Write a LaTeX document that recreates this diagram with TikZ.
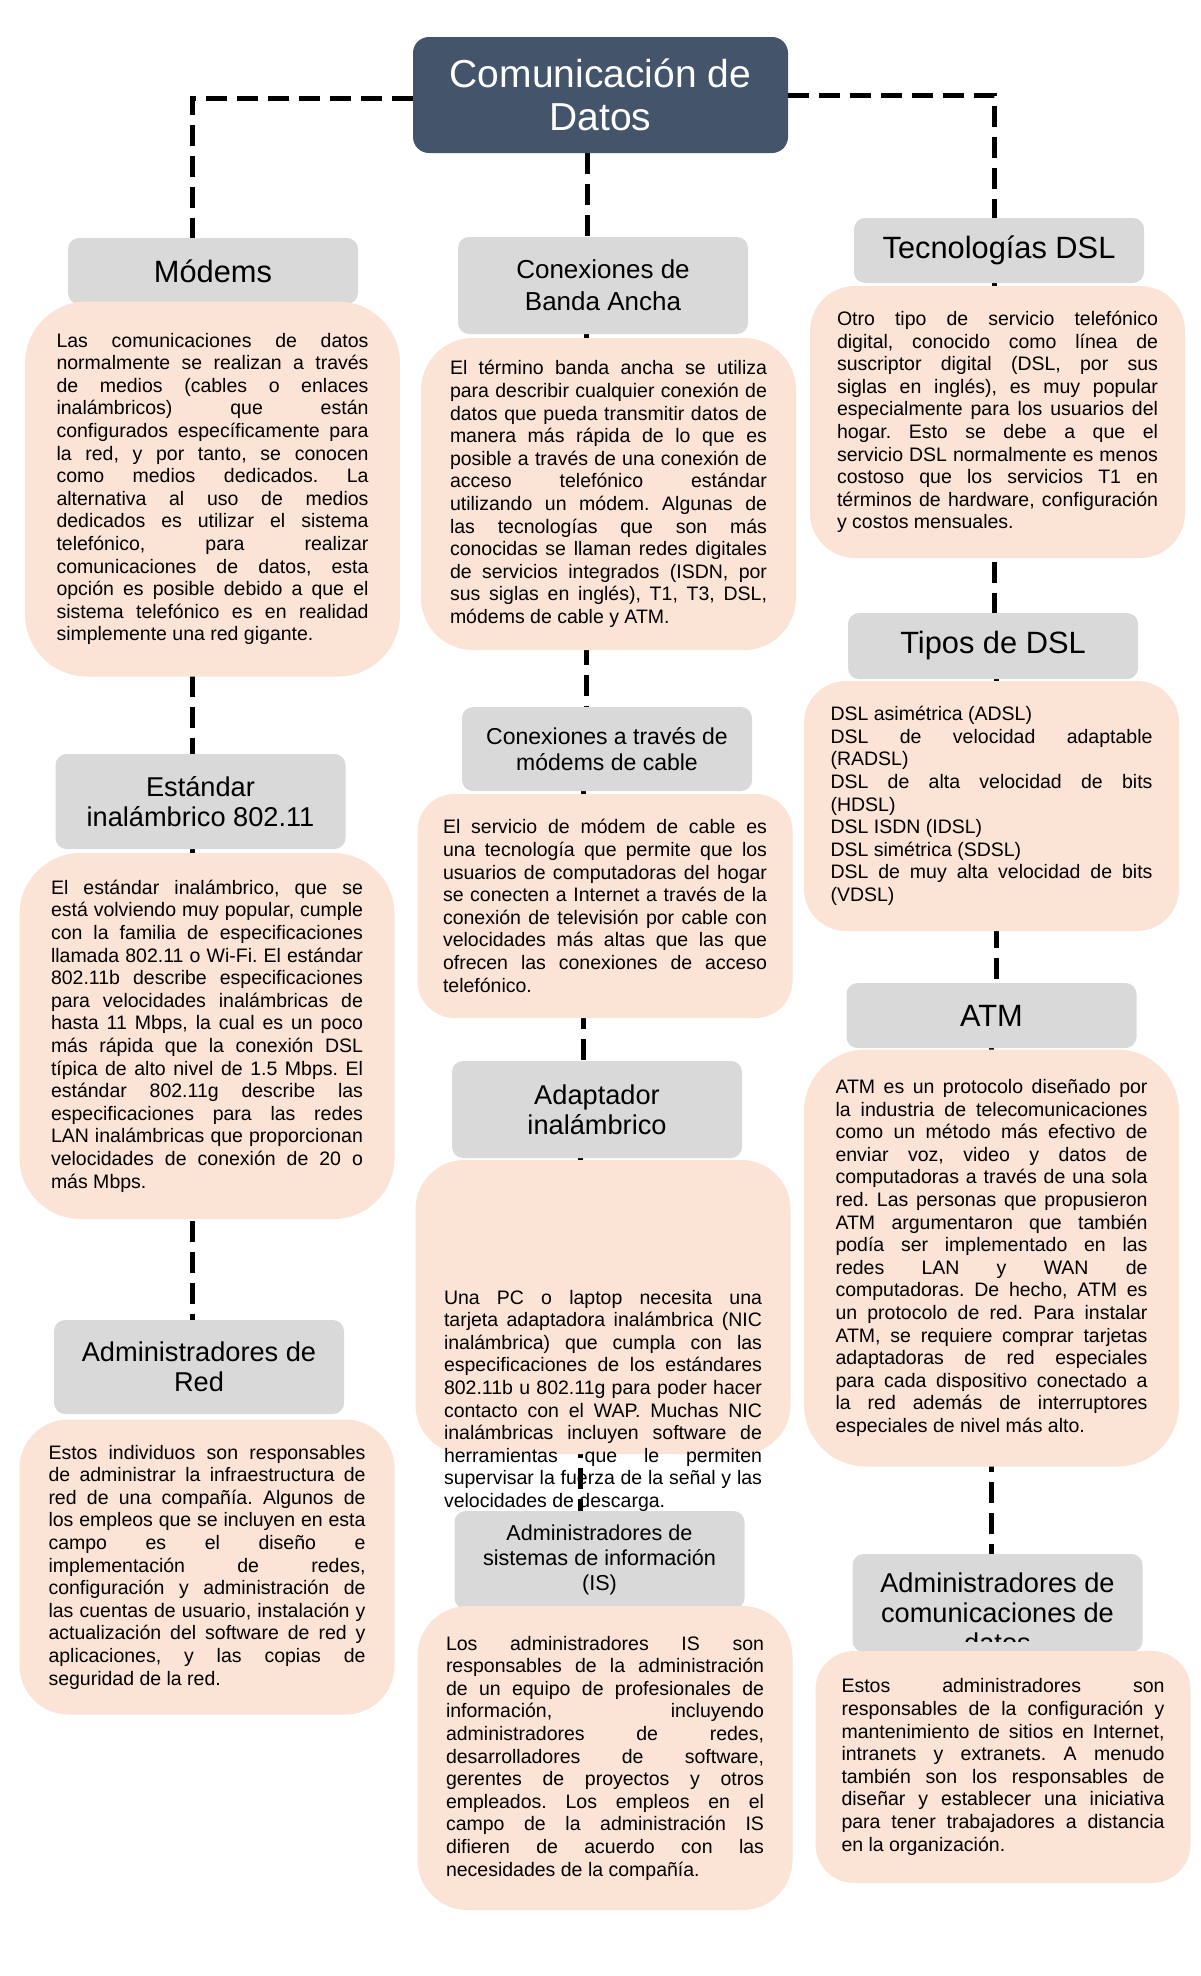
\documentclass[tikz,border=0pt]{standalone}
\usepackage{fontspec}
\setmainfont{Liberation Sans}
\usetikzlibrary{backgrounds}
\definecolor{MapSlate}{HTML}{44546A}
\definecolor{MapGray}{HTML}{D9D9D9}
\definecolor{MapPeach}{HTML}{FBE3D6}
\newcommand{\notefont}{\fontsize{9.75}{11.3}\selectfont\frenchspacing\spaceskip=0.278em plus 0.6em minus 0.08em\relax}
\tikzset{
  topicbox/.style={fill=MapSlate, rounded corners=8pt, text=white, align=center, inner sep=0pt, minimum width=187.5pt, minimum height=58pt, font=\fontsize{19.5}{21.7}\selectfont},
  headbox/.style={fill=MapGray, rounded corners=5.5pt, align=center, inner sep=0pt, minimum width=145pt},
  notebox/.style={fill=MapPeach, inner sep=0pt, minimum width=187.5pt, text width=#1, align=justify,
    execute at begin node={\tolerance=10000 \hbadness=10000 \emergencystretch=0pt }, font=\notefont},
  dashlink/.style={draw=black, line width=2.5pt, dash pattern=on 10.5pt off 5pt},
  headbig/.style={font=\fontsize{15.4}{17}\selectfont},
  headmid/.style={font=\fontsize{13.6}{15}\selectfont},
}

\begin{document}
\begin{tikzpicture}[x=0.5pt,y=-0.5pt]
  \useasboundingbox (0,0) rectangle (1200,1976);
  \node[topicbox] (title) at (600.5,95) {Comunicación de\\Datos};

  % headings
  \node[headbox, headbig, minimum height=33pt] (modH) at (213,271) {Módems};
  \node[headbox, font=\fontsize{13}{15.8}\selectfont, minimum height=48.5pt] (bandH) at (603,285.5) {Conexiones de\\Banda Ancha};
  \node[headbox, headbig, minimum height=32.5pt] (tecH) at (999,250.5) {Tecnologías DSL};
  \node[headbox, headbig, minimum height=33pt] (tipH) at (993,646) {Tipos de DSL};
  \node[headbox, headmid, minimum height=47.5pt] (estH) at (200.5,801.5) {Estándar\\inalámbrico 802.11};
  \node[headbox, font=\fontsize{11.5}{13.2}\selectfont, minimum height=42pt] (cabH) at (607,749) {Conexiones a través de\\módems de cable};
  \node[headbox, headmid, minimum height=48.5pt] (adaH) at (597,1109.5) {Adaptador\\inalámbrico};
  \node[headbox, headbig, minimum height=32.5pt] (atmH) at (991.5,1015.5) {ATM};
  \node[headbox, headmid, minimum height=47pt] (redH) at (199,1367) {Administradores de\\Red};
  \node[headbox, font=\fontsize{10.8}{12.6}\selectfont, minimum height=49pt] (isH) at (599.5,1560) {Administradores de\\sistemas de información\\(IS)};
  \node[headbox, minimum height=49pt] (comH) at (997.5,1603) {};
  \begin{scope}
    \clip (comH.north west) rectangle ([yshift=5.5pt]comH.south east);
    \node[headmid, align=center] (comT) at (997.5,1613) {Administradores de\\comunicaciones de\\datos};
  \end{scope}

  % bodies
  \node[notebox=156pt, rounded corners=31pt, minimum height=187.5pt] (modB) at (212.5,489) {%
    Las comunicaciones de datos\linebreak
    normalmente se realizan a través\linebreak
    de medios (cables o enlaces\linebreak
    inalámbricos) que están\linebreak
    configurados específicamente para\linebreak
    la red, y por tanto, se conocen\linebreak
    como medios dedicados. La\linebreak
    alternativa al uso de medios\linebreak
    dedicados es utilizar el sistema\linebreak
    telefónico, para realizar\linebreak
    comunicaciones de datos, esta\linebreak
    opción es posible debido a que el\linebreak
    sistema telefónico es en realidad\linebreak
    simplemente una red gigante.};
  \node[notebox=158.5pt, rounded corners=26pt, minimum height=156pt] (bandB) at (608.5,494) {%
    El término banda ancha se utiliza\linebreak
    para describir cualquier conexión de\linebreak
    datos que pueda transmitir datos de\linebreak
    manera más rápida de lo que es\linebreak
    posible a través de una conexión de\linebreak
    acceso telefónico estándar\linebreak
    utilizando un módem. Algunas de\linebreak
    las tecnologías que son más\linebreak
    conocidas se llaman redes digitales\linebreak
    de servicios integrados (ISDN, por\linebreak
    sus siglas en inglés), T1, T3, DSL,\linebreak
    módems de cable y ATM.};
  \node[notebox=160.5pt, rounded corners=22.5pt, minimum height=136pt] (tecB) at (997.5,422) {%
    Otro tipo de servicio telefónico\linebreak
    digital, conocido como línea de\linebreak
    suscriptor digital (DSL, por sus\linebreak
    siglas en inglés), es muy popular\linebreak
    especialmente para los usuarios del\linebreak
    hogar. Esto se debe a que el\linebreak
    servicio DSL normalmente es menos\linebreak
    costoso que los servicios T1 en\linebreak
    términos de hardware, configuración\linebreak
    y costos mensuales.};
  \node[notebox=161pt, rounded corners=21pt, minimum height=125pt] (tipB) at (991.5,806) {%
    DSL asimétrica (ADSL)\par
    DSL de velocidad adaptable\linebreak
    (RADSL)\par
    DSL de alta velocidad de bits\linebreak
    (HDSL)\par
    DSL ISDN (IDSL)\par
    DSL simétrica (SDSL)\par
    DSL de muy alta velocidad de bits\linebreak
    (VDSL)};
  \node[notebox=156pt, rounded corners=30.5pt, minimum height=183pt] (estB) at (207,1036) {%
    El estándar inalámbrico, que se\linebreak
    está volviendo muy popular, cumple\linebreak
    con la familia de especificaciones\linebreak
    llamada 802.11 o Wi-Fi. El estándar\linebreak
    802.11b describe especificaciones\linebreak
    para velocidades inalámbricas de\linebreak
    hasta 11 Mbps, la cual es un poco\linebreak
    más rápida que la conexión DSL\linebreak
    típica de alto nivel de 1.5 Mbps. El\linebreak
    estándar 802.11g describe las\linebreak
    especificaciones para las redes\linebreak
    LAN inalámbricas que proporcionan\linebreak
    velocidades de conexión de 20 o\linebreak
    más Mbps.};
  \node[notebox=162pt, rounded corners=18.5pt, minimum height=112pt] (cabB) at (605,906) {%
    El servicio de módem de cable es\linebreak
    una tecnología que permite que los\linebreak
    usuarios de computadoras del hogar\linebreak
    se conecten a Internet a través de la\linebreak
    conexión de televisión por cable con\linebreak
    velocidades más altas que las que\linebreak
    ofrecen las conexiones de acceso\linebreak
    telefónico.};
  \node[notebox=159pt, rounded corners=24.5pt, minimum height=147pt, text depth=10pt] (adaB) at (603,1307) {%
    Una PC o laptop necesita una\linebreak
    tarjeta adaptadora inalámbrica (NIC\linebreak
    inalámbrica) que cumpla con las\linebreak
    especificaciones de los estándares\linebreak
    802.11b u 802.11g para poder hacer\linebreak
    contacto con el WAP. Muchas NIC\linebreak
    inalámbricas incluyen software de\linebreak
    herramientas que le permiten\linebreak
    supervisar la fuerza de la señal y las\linebreak
    velocidades de descarga.};
  \node[notebox=156pt, rounded corners=31pt, minimum height=208.5pt] (atmB) at (991.5,1258) {%
    ATM es un protocolo diseñado por\linebreak
    la industria de telecomunicaciones\linebreak
    como un método más efectivo de\linebreak
    enviar voz, video y datos de\linebreak
    computadoras a través de una sola\linebreak
    red. Las personas que propusieron\linebreak
    ATM argumentaron que también\linebreak
    podía ser implementado en las\linebreak
    redes LAN y WAN de\linebreak
    computadoras. De hecho, ATM es\linebreak
    un protocolo de red. Para instalar\linebreak
    ATM, se requiere comprar tarjetas\linebreak
    adaptadoras de red especiales\linebreak
    para cada dispositivo conectado a\linebreak
    la red además de interruptores\linebreak
    especiales de nivel más alto.};
  \node[notebox=158.5pt, rounded corners=24.5pt, minimum height=147.5pt] (redB) at (207,1567) {%
    Estos individuos son responsables\linebreak
    de administrar la infraestructura de\linebreak
    red de una compañía. Algunos de\linebreak
    los empleos que se incluyen en esta\linebreak
    campo es el diseño e\linebreak
    implementación de redes,\linebreak
    configuración y administración de\linebreak
    las cuentas de usuario, instalación y\linebreak
    actualización del software de red y\linebreak
    aplicaciones, y las copias de\linebreak
    seguridad de la red.};
  \node[notebox=159pt, rounded corners=25pt, minimum height=152pt] (isB) at (605,1758) {%
    Los administradores IS son\linebreak
    responsables de la administración\linebreak
    de un equipo de profesionales de\linebreak
    información, incluyendo\linebreak
    administradores de redes,\linebreak
    desarrolladores de software,\linebreak
    gerentes de proyectos y otros\linebreak
    empleados. Los empleos en el\linebreak
    campo de la administración IS\linebreak
    difieren de acuerdo con las\linebreak
    necesidades de la compañía.};
  \node[notebox=161.5pt, rounded corners=19.3pt, minimum height=116pt] (comB) at (1003,1767) {%
    Estos administradores son\linebreak
    responsables de la configuración y\linebreak
    mantenimiento de sitios en Internet,\linebreak
    intranets y extranets. A menudo\linebreak
    también son los responsables de\linebreak
    diseñar y establecer una iniciativa\linebreak
    para tener trabajadores a distancia\linebreak
    en la organización.};

  % connectors
  \begin{pgfonlayer}{background}
    \draw[dashlink] ([yshift=-1.5pt]title.west) -| ([xshift=-10.5pt]modH.north);
    \draw[dashlink] ([xshift=-6.75pt]title.south) -- ([xshift=-6.75pt]title.south |- bandH.north);
    \draw[dashlink] (title.east) -| ([xshift=-2.5pt]tecH.north);
    \draw[dashlink] ([xshift=-10.5pt]modH.south) -- ([xshift=-10.5pt]modH.south |- estH.north);
    \draw[dashlink] ([xshift=-4.25pt]estH.south) -- ([xshift=-4.25pt]estH.south |- redH.north);
    \draw[dashlink] ([xshift=-8.5pt]bandH.south) -- ([xshift=-8.5pt]bandH.south |- cabH.north);
    \draw[dashlink] ([xshift=-12pt]cabH.south) -- ([xshift=-12pt]cabH.south |- adaH.north);
    \draw[dashlink] ([xshift=-8.5pt]adaH.south) -- ([xshift=-8.5pt]adaH.south |- isH.north);
    \draw[dashlink] ([xshift=-2.5pt]tecH.south) -- ([xshift=-2.5pt]tecH.south |- tipH.north);
    \draw[dashlink] ([xshift=1.5pt]tipH.south) -- ([xshift=1.5pt]tipH.south |- atmH.north);
    \draw[dashlink] (atmH.south) -- (atmH.south |- comH.north);
  \end{pgfonlayer}
\end{tikzpicture}
\end{document}
